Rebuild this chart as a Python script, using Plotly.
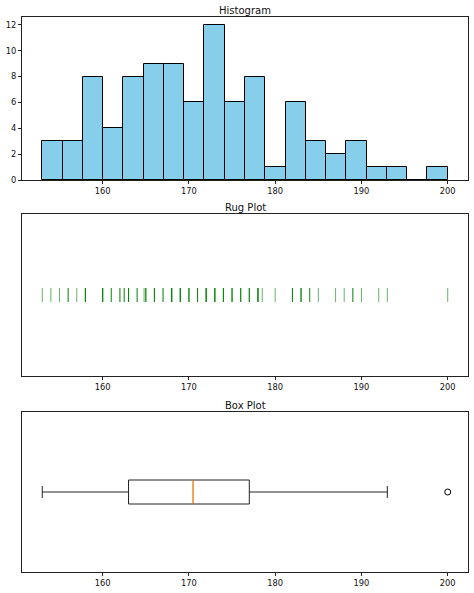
import numpy as np
import plotly.graph_objects as go

# ---- data ----
heights = [
    153, 154, 155,
    156, 156, 157,
    158, 158, 158, 158, 160, 160, 160, 160,
    161, 161, 162, 162,
    162.5, 162.5, 163, 163, 163, 163, 164, 164,
    164.8, 165, 165, 165, 166, 166, 166, 167, 167,
    168, 168, 168, 168, 168, 169, 169, 169, 169,
    170, 170, 170, 171, 171, 171,
    172, 172, 172, 172, 173, 173, 173, 173, 174, 174, 174, 174,
    175, 175, 175, 176, 176, 176,
    177, 177, 177, 178, 178, 178, 178, 178.5,
    180,
    182, 182, 182, 183, 183, 183,
    184, 184, 185,
    187, 188,
    189, 189, 190,
    192, 193, 200,
]
n_bins = 20
titles = ["Histogram", "Rug Plot", "Box Plot"]
x_ticks = [160, 170, 180, 190, 200]
hist_y_ticks = [0, 2, 4, 6, 8, 10, 12]

data = np.array(heights, dtype=float)
counts, edges = np.histogram(data, bins=n_bins)
centers = (edges[:-1] + edges[1:]) / 2
widths = np.diff(edges)

span = data.max() - data.min()
xr = [data.min() - 0.05 * span, data.max() + 0.05 * span]

FONT = "DejaVu Sans"
fig = go.Figure()

# Histogram
fig.add_trace(go.Bar(
    x=centers, y=counts, width=widths,
    marker=dict(color="#87CEEB", line=dict(color="black", width=1)),
    xaxis="x", yaxis="y", showlegend=False, hoverinfo="skip",
))

# Rug plot
fig.add_trace(go.Scatter(
    x=data, y=np.zeros_like(data), mode="markers",
    marker=dict(symbol="line-ns", size=10,
                line=dict(color="rgba(0,128,0,0.6)", width=1)),
    xaxis="x2", yaxis="y2", showlegend=False, hoverinfo="skip",
))

# Box plot
fig.add_trace(go.Box(
    x=data, y0=1, orientation="h", boxpoints="outliers",
    quartilemethod="linear", width=0.15, whiskerwidth=0.5,
    fillcolor="rgba(0,0,0,0)", line=dict(color="#222222", width=1),
    marker=dict(symbol="circle-open", color="black", size=6,
                line=dict(width=1)),
    xaxis="x3", yaxis="y3", showlegend=False, hoverinfo="skip",
))
med = float(np.median(data))
fig.add_trace(go.Scatter(
    x=[med, med], y=[1 - 0.073, 1 + 0.073], mode="lines",
    line=dict(color="#ff9a40", width=1.6),
    xaxis="x3", yaxis="y3", showlegend=False, hoverinfo="skip",
))

axis_common = dict(showline=True, linecolor="#222222", linewidth=1, mirror=True,
                   showgrid=False, zeroline=False,
                   tickfont=dict(family=FONT, size=8.3, color="#111111"))
xax = dict(axis_common, range=xr, tickvals=x_ticks, ticks="outside",
           ticklen=3, tickcolor="#222222")

y_h_bottom = (572 - 180) / 555
y_r_top, y_r_bottom = (572 - 214) / 555, (572 - 376) / 555
y_b_top = (572 - 412) / 555

fig.update_layout(
    width=474, height=593,
    margin=dict(l=22, r=6, t=17, b=21),
    paper_bgcolor="white", plot_bgcolor="white",
    font=dict(family=FONT, size=8.3, color="#111111"),
    bargap=0,
    xaxis=dict(xax, anchor="y"),
    yaxis=dict(axis_common, domain=[y_h_bottom, 1], range=[0, 12.6],
               tickvals=hist_y_ticks, ticks="outside", ticklen=3,
               tickcolor="#222222", anchor="x"),
    xaxis2=dict(xax, anchor="y2"),
    yaxis2=dict(axis_common, domain=[y_r_bottom, y_r_top], range=[-0.055, 0.055],
                showticklabels=False, ticks="", anchor="x2"),
    xaxis3=dict(xax, anchor="y3"),
    yaxis3=dict(axis_common, domain=[0, y_b_top], range=[0.5, 1.5],
                showticklabels=False, ticks="", anchor="x3"),
)

for i, t in enumerate(titles):
    suffix = "" if i == 0 else str(i + 1)
    fig.add_annotation(
        text=t, xref=f"x{suffix} domain", yref=f"y{suffix} domain",
        x=0.5, y=1, xanchor="center", yanchor="bottom", yshift=-1,
        showarrow=False, font=dict(family=FONT, size=10, color="#111111"),
    )

fig.write_html("out.html")
